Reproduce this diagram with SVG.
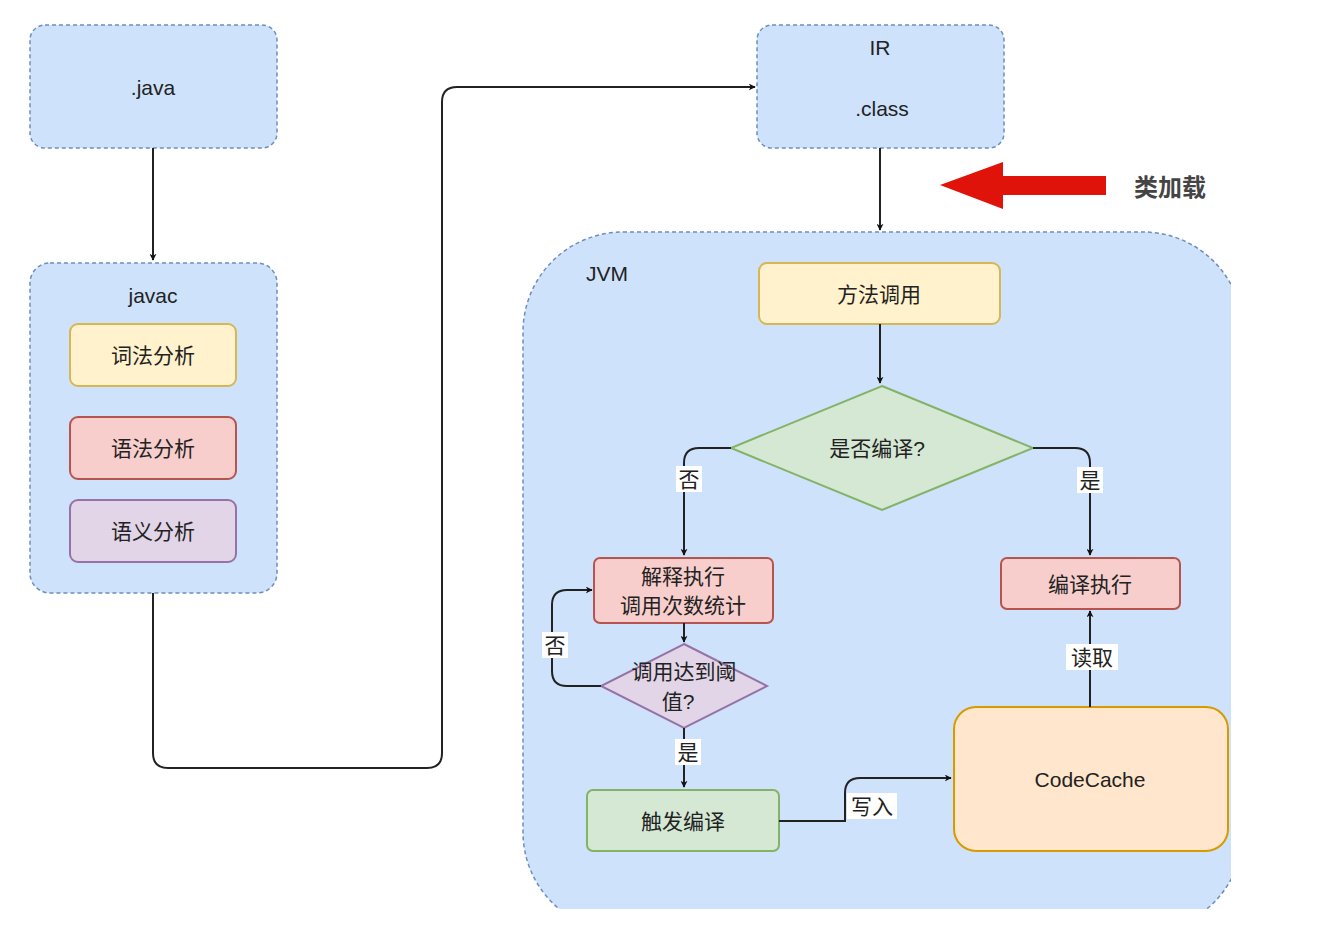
<svg xmlns="http://www.w3.org/2000/svg" width="1326" height="938" viewBox="0 0 1326 938">
<defs>
<marker id="ah" viewBox="0 0 10 10" refX="9" refY="5" markerWidth="7" markerHeight="7" orient="auto" markerUnits="userSpaceOnUse"><path d="M0,0 L10,5 L0,10 L3,5 Z" fill="#111"/></marker>
<style>
.dash{fill:#cfe2fb;stroke:#6c8ebf;stroke-width:1.5;stroke-dasharray:4 3}
.y{fill:#fff2cc;stroke:#d6b656;stroke-width:2}
.r{fill:#f8cecc;stroke:#b85450;stroke-width:2}
.p{fill:#e1d5e7;stroke:#9673a6;stroke-width:2}
.g{fill:#d5e8d4;stroke:#82b366;stroke-width:2}
.o{fill:#ffe6cc;stroke:#d79b00;stroke-width:2}
text{font-family:"Liberation Sans","Noto Sans CJK SC",sans-serif;font-size:21px;fill:#222;text-anchor:middle;dominant-baseline:central}
.c{fill:none;stroke:#222;stroke-width:2;marker-end:url(#ah)}
.lb{fill:#fff}
</style>
</defs>
<rect width="1326" height="938" fill="#fff"/>
<g id="jvm"><rect class="dash" x="523" y="232" width="720" height="700" rx="100"/><text x="607" y="273">JVM</text></g>
<rect x="1231" y="220" width="95" height="718" fill="#fff"/>
<rect x="500" y="909" width="826" height="29" fill="#fff"/>
<g id="java"><rect class="dash" x="30" y="25" width="247" height="123" rx="15"/><text x="153" y="87">.java</text></g>
<g id="javac"><rect class="dash" x="30" y="263" width="247" height="330" rx="20"/><text x="153" y="295">javac</text></g>
<g id="lex"><rect class="y" x="70" y="324" width="166" height="62" rx="8"/><text x="153" y="355">词法分析</text></g>
<g id="syn"><rect class="r" x="70" y="417" width="166" height="62" rx="8"/><text x="153" y="448">语法分析</text></g>
<g id="sem"><rect class="p" x="70" y="500" width="166" height="62" rx="8"/><text x="153" y="531">语义分析</text></g>
<g id="ir"><rect class="dash" x="757" y="25" width="247" height="123" rx="15"/><text x="880" y="47">IR</text><text x="882" y="108">.class</text></g>
<g id="call"><rect class="y" x="759" y="263" width="241" height="61" rx="8"/><text x="879" y="294">方法调用</text></g>
<g id="dec"><polygon class="g" points="882,386 1033,448 882,510 731,448"/><text x="877" y="448">是否编译?</text></g>
<g id="interp"><rect class="r" x="594" y="558" width="179" height="65" rx="6"/><text x="683" y="576">解释执行</text><text x="683" y="605">调用次数统计</text></g>
<g id="comp"><rect class="r" x="1001" y="558" width="179" height="51" rx="6"/><text x="1090" y="584">编译执行</text></g>
<g id="thr"><polygon class="p" points="684,644 767,686 684,728 601,686"/><text x="684" y="671">调用达到阈</text><text x="678" y="701">值?</text></g>
<g id="trig"><rect class="g" x="587" y="790" width="192" height="61" rx="6"/><text x="683" y="821">触发编译</text></g>
<g id="cache"><rect class="o" x="954" y="707" width="274" height="144" rx="22"/><text x="1090" y="779">CodeCache</text></g>
<g id="connectors">
<path class="c" d="M153,148 V260"/>
<path class="c" d="M153,593 V753 Q153,768 168,768 H427 Q442,768 442,753 V102 Q442,87 457,87 H755"/>
<path class="c" d="M880,148 V230"/>
<path class="c" d="M880,324 V383"/>
<path class="c" d="M731,448 H699 Q684,448 684,463 V555"/>
<path class="c" d="M1033,448 H1075 Q1090,448 1090,463 V555"/>
<path class="c" d="M684,623 V642"/>
<path class="c" d="M601,686 H567 Q552,686 552,671 V605 Q552,590 567,590 H592"/>
<path class="c" d="M684,728 V787"/>
<path class="c" d="M779,821 H845 V793 Q845,778 860,778 H951"/>
<path class="c" d="M1090,707 V611"/>
<polygon points="940,185 1003,162 1003,176 1106,176 1106,195 1003,195 1003,209" fill="#e0130b"/>
<rect class="lb" x="676" y="466" width="26" height="26"/><text x="689" y="479">否</text>
<rect class="lb" x="1077" y="467" width="26" height="26"/><text x="1090" y="480">是</text>
<rect class="lb" x="542" y="632" width="26" height="26"/><text x="555" y="645">否</text>
<rect class="lb" x="675" y="739" width="26" height="26"/><text x="688" y="752">是</text>
<rect class="lb" x="847" y="793" width="50" height="26"/><text x="872" y="806">写入</text>
<rect class="lb" x="1066" y="644" width="52" height="26"/><text x="1092" y="657">读取</text>
</g>
<text x="1170" y="187" style="font-weight:bold;fill:#444;font-size:24px">类加载</text>
</svg>
